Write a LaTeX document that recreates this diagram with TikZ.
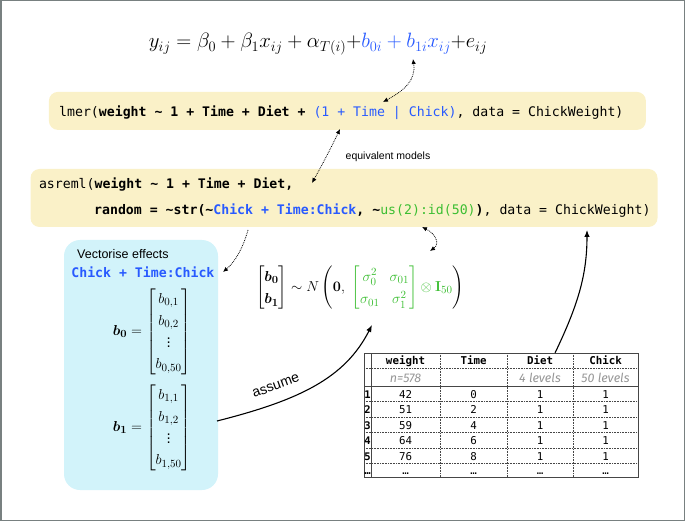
\documentclass[tikz,border=0pt]{standalone}
\usepackage{amsmath}
\usepackage[no-math]{fontspec}
\setmainfont{Liberation Sans}
\setmonofont{DejaVu Sans Mono}
\newfontfamily\firafont{Fira Sans}
\usetikzlibrary{arrows.meta}
\definecolor{yfill}{RGB}{250,241,200}
\definecolor{cfill}{RGB}{210,243,250}
\definecolor{cblue}{RGB}{40,90,255}
\definecolor{cgreen}{RGB}{60,190,50}
\definecolor{framegray}{RGB}{120,128,128}
\definecolor{tabgray}{RGB}{150,150,150}
\definecolor{tabline}{RGB}{70,70,70}
\tikzset{
  ybox/.style={fill=yfill, draw=none, rounded corners=9pt, inner sep=0pt},
  cbox/.style={fill=cfill, draw=none, rounded corners=16pt, inner sep=0pt},
  code/.style={font=\ttfamily\fontsize{13.2}{15}\selectfont, anchor=base west, inner sep=0pt},
  lab/.style={font=\fontsize{10.5}{12}\selectfont, inner sep=0pt},
  darr/.style={densely dotted, line width=0.8pt, {Latex[length=5pt,width=4.5pt]}-{Latex[length=5pt,width=4.5pt]}},
  sarr/.style={densely dotted, line width=0.8pt, -{Latex[length=5pt,width=4.5pt]}},
  carr/.style={line width=1.1pt, -{Latex[length=7pt,width=5.5pt]}},
  thead/.style={font=\ttfamily\bfseries\fontsize{10.8}{12}\selectfont, anchor=base, inner sep=0pt},
  tsub/.style={font=\firafont\itshape\fontsize{12.5}{14}\selectfont, text=tabgray, anchor=base, inner sep=0pt},
  tcell/.style={font=\ttfamily\fontsize{10.8}{12}\selectfont, anchor=base, inner sep=0pt},
  tnum/.style={font=\ttfamily\bfseries\fontsize{10.5}{12}\selectfont, anchor=base, inner sep=0pt},
  tsolid/.style={draw=tabline, line width=1pt},
  tdot/.style={draw=tabline, line width=0.6pt, densely dotted},
}
\begin{document}
\begin{tikzpicture}[x=1pt,y=-1pt]
\useasboundingbox (0,0) rectangle (685,521);
\draw[framegray, line width=1.5pt] (0.75,0.75) rectangle (684.25,520.25);

% equation
\node[inner sep=0pt, anchor=base, font=\fontsize{21}{25}\selectfont] (eq) at (318,48)
  {$y_{ij} = \beta_0 + \beta_1 x_{ij} + \alpha_{T(i)}\mathord{+}\textcolor{cblue}{b_{0i} + b_{1i}x_{ij}}\mathord{+}e_{ij}$};

% lmer box
\node[ybox, minimum width=597pt, minimum height=38pt] (lmerbox) at (347.4,110.9) {};
\node[code] (lmertxt) at (59,116.7) {lmer(\textbf{weight \textasciitilde{} 1 + Time + Diet +} \textcolor{cblue}{(1 + Time | Chick)}, data = ChickWeight)};

% asreml box
\node[ybox, minimum width=627pt, minimum height=58pt] (asbox) at (344,198) {};
\node[code] (astxtA) at (38.8,188.5) {asreml(\textbf{weight \textasciitilde{} 1 + Time + Diet,}};
\node[code] (astxtB) at (94,215) {\textbf{random = \textasciitilde str(\textasciitilde}\textcolor{cblue}{\textbf{Chick + Time:Chick}}\textbf{, \textasciitilde}\textcolor{cgreen}{us(2):id(50)}\textbf{)}, data = ChickWeight)};

\node[lab, anchor=base] (eqlab) at (388,160) {equivalent models};

% vectorise box
\node[cbox, minimum width=154pt, minimum height=250pt] (vbox) at (141,365) {};
\node[anchor=base west, inner sep=0pt, font=\fontsize{12.5}{14}\selectfont] (vtitle) at (77,259) {Vectorise effects};
\node[code, text=cblue] (vterm) at (71.2,277.7) {\textbf{Chick + Time:Chick}};
\node[inner sep=0pt, font=\fontsize{15}{18}\selectfont] (b0vec) at (152,332)
  {$\renewcommand{\arraystretch}{1.2}\boldsymbol{b}_{\mathbf{0}} = \begin{bmatrix} b_{0,1}\\ b_{0,2}\\ \vdots\\ b_{0,50}\end{bmatrix}$};
\node[inner sep=0pt, font=\fontsize{15}{18}\selectfont] (b1vec) at (152,428)
  {$\renewcommand{\arraystretch}{1.2}\boldsymbol{b}_{\mathbf{1}} = \begin{bmatrix} b_{1,1}\\ b_{1,2}\\ \vdots\\ b_{1,50}\end{bmatrix}$};

% distribution
\node[inner sep=0pt, font=\fontsize{15.8}{19}\selectfont] (dist) at (360,288)
  {$\renewcommand{\arraystretch}{1.2}\begin{bmatrix}\boldsymbol{b}_{\mathbf{0}}\\ \boldsymbol{b}_{\mathbf{1}}\end{bmatrix} \sim N\left(\mathbf{0},\ \textcolor{cgreen}{\begin{bmatrix}\sigma_0^2 & \sigma_{01}\\ \sigma_{01} & \sigma_1^2\end{bmatrix} \otimes \mathbf{I}_{50}}\right)$};

% table
\foreach \y in {368,401.5,417,432.5,448,463} \draw[tdot] (364,\y) -- (638,\y);
\foreach \x in {440,507,573} \draw[tdot] (\x,353) -- (\x,477);
\draw[tsolid] (364,386) -- (638,386);
\draw[tsolid] (371,353) -- (371,477);
\draw[tsolid] (364,353) rectangle (638,477);
\node[thead] (hW) at (405.5,364.5) {weight};
\node[thead] (hT) at (473.5,364.5) {Time};
\node[thead] (hD) at (540,364.5) {Diet};
\node[thead] (hC) at (605.5,364.5) {Chick};
\node[tsub] (sW) at (405.5,382.5) {n=578};
\node[tsub] (sD) at (540,382.5) {4 levels};
\node[tsub] (sC) at (605.5,382.5) {50 levels};
\foreach \r/\yy/\w/\t in {1/398/42/0, 2/413.5/51/2, 3/429/59/4, 4/444.5/64/6, 5/460/76/8}{
  \node[tnum] (n\r) at (367.5,\yy) {\r};
  \node[tcell] (w\r) at (405.5,\yy) {\w};
  \node[tcell] (t\r) at (473.5,\yy) {\t};
  \node[tcell] (d\r) at (540,\yy) {1};
  \node[tcell] (c\r) at (605.5,\yy) {1};
}
\node[tnum] (n6) at (367.5,474) {…};
\node[tcell] (w6) at (405.5,474) {…};
\node[tcell] (t6) at (473.5,474) {…};
\node[tcell] (d6) at (540,474) {…};
\node[tcell] (c6) at (605.5,474) {…};

% connectors
\coordinate (eqB) at (413,59);
\coordinate (lmTop) at (383,102);
\coordinate (lmBot) at (340,129);
\coordinate (asTop) at (312,183);
\coordinate (asBotL) at (248,230);
\coordinate (vtEnd) at (223,272);
\coordinate (asBotR) at (422,227);
\coordinate (distTop) at (430,251);
\coordinate (assS) at (217,421);
\coordinate (assE) at (372,325);
\coordinate (tabTop) at (555,353);
\coordinate (asBotT) at (587,230);

\draw[darr] (eqB) .. controls (416,80) and (405,90) .. (lmTop);
\draw[darr] (lmBot) .. controls (330,150) and (322,165) .. (asTop);
\draw[sarr] (asBotL) .. controls (243,248) and (235,262) .. (vtEnd);
\draw[darr] (asBotR) .. controls (436,234) and (440,244) .. (distTop);
\draw[carr] (assS) .. controls (300,400) and (345,378) .. (assE);
\draw[carr] (tabTop) .. controls (578,305) and (587,275) .. (asBotT);
\node[inner sep=0pt, rotate=20, font=\fontsize{14}{16}\selectfont] (assumelab) at (276,386) {assume};
\end{tikzpicture}
\end{document}
